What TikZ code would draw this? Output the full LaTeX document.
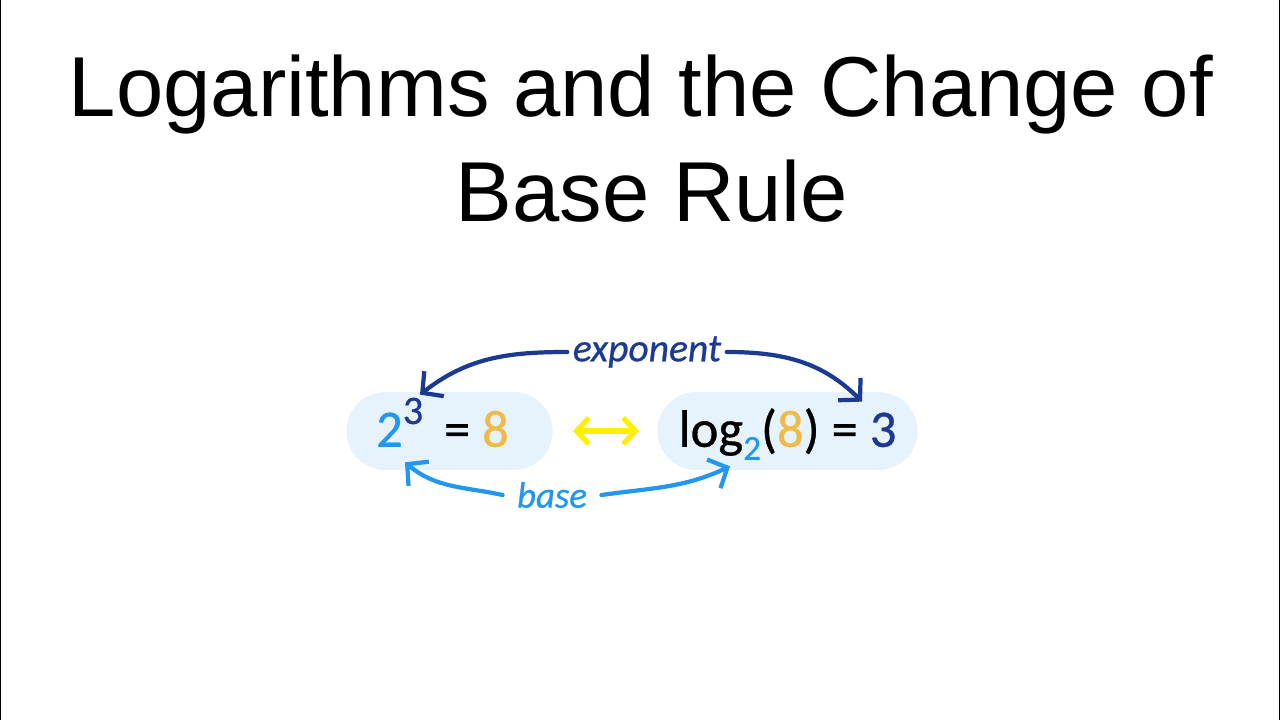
\documentclass[tikz,border=0pt]{standalone}
\usepackage{fontspec}
\setmainfont{Liberation Sans}
\newfontfamily\handfont[FakeBold=0.6]{Carlito}
\usetikzlibrary{arrows.meta,positioning,calc,shapes.misc}
\definecolor{LOG-NAVY}{RGB}{28,58,145}
\definecolor{LOG-SKY}{RGB}{33,150,243}
\definecolor{LOG-GOLD}{RGB}{240,186,70}
\definecolor{LOG-PILL}{RGB}{231,243,252}
\definecolor{LOG-YELLOW}{RGB}{255,240,0}
\newcommand\raisedigit[1]{\raisebox{13pt}{\fontsize{23}{23}\selectfont #1}}
\newcommand\lowerdigit[1]{\raisebox{-7.4pt}{\fontsize{20}{20}\selectfont #1}}
\tikzset{
  pill/.style={rounded rectangle, fill=LOG-PILL, minimum height=1.56cm,
    text height=20pt, text depth=2pt, font=\handfont\fontsize{30}{30}\selectfont},
  curl/.style={line width=2.4pt, line cap=round, -{Straight Barb[length=8.5pt,width=18pt]}},
  tag/.style={font=\handfont\itshape\fontsize{22}{22}\selectfont, inner sep=3pt}
}

\begin{document}
\begin{tikzpicture}[x=0.02cm,y=0.02cm]
  \useasboundingbox (0,0) rectangle (1280,720);
  % Frame edges
  \draw[line width=0.8pt] (0.7,0) -- (0.7,720);
  \draw[line width=0.8pt] (1279.3,0) -- (1279.3,720);

  % Title
  \node[anchor=base, font=\fontsize{48.4}{48.4}\selectfont] (title1) at (641,603) {Logarithms and the Change of};
  \node[anchor=base, font=\fontsize{48.4}{48.4}\selectfont] (title2) at (652,498) {Base Rule};

  % Exponential form (left pill)
  \node[pill, minimum width=4.36cm] (fwd) at (449.5,289)
    {{\color{LOG-SKY}2}\raisedigit{\color{LOG-NAVY}3}\hspace{5pt} = {\color{LOG-GOLD}8}\kern8pt};

  % Logarithmic form (right pill)
  \node[pill, minimum width=5.44cm] (inv) at (787.5,289)
    {log\lowerdigit{\color{LOG-SKY}2}({\color{LOG-GOLD}8}) = {\color{LOG-NAVY}3}};

  % Labels
  \node[tag, LOG-NAVY, font=\handfont\itshape\fontsize{22.5}{22.5}\selectfont] (expo) at (647,368) {exponent};
  \node[tag, LOG-SKY, inner xsep=8pt, font=\handfont\itshape\fontsize{21}{21}\selectfont] (base) at (552,225) {base};

  % Exponent arrows
  \draw[curl, LOG-NAVY] (expo.west) to[out=180,in=38] ($(fwd.north)+(-29.5,-3)$);
  \draw[curl, LOG-NAVY] (expo.east) to[out=0,in=135] ($(inv.north)+(74.5,-10)$);

  % Base arrows
  \draw[curl, LOG-SKY] (base.west) to[out=168,in=-40] ($(fwd.south)+(-44.5,8)$);
  \draw[curl, LOG-SKY] (base.east) to[out=8,in=205] ($(inv.south)+(-57.5,4)$);

  % Equivalence arrow
  \draw[LOG-YELLOW, line width=3pt, line cap=round,
    {Straight Barb[length=7pt,width=15pt]}-{Straight Barb[length=7pt,width=15pt]}]
    ($(fwd.east)+(20,0)$) -- ($(inv.west)+(-18,0)$);
\end{tikzpicture}
\end{document}
